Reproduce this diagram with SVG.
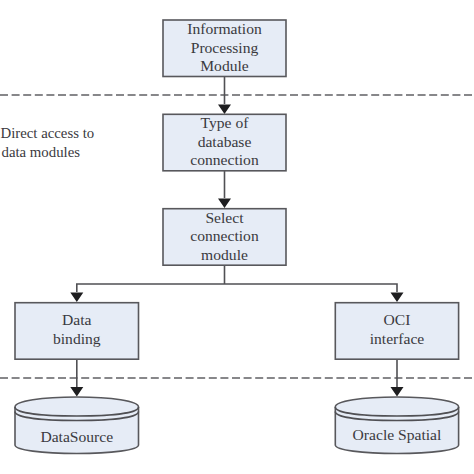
<svg xmlns="http://www.w3.org/2000/svg" width="474" height="474" viewBox="0 0 474 474">
<defs>
<style>
text{font-family:"Liberation Serif","Times New Roman",serif;font-size:15.6px;fill:#3a3a40;text-anchor:middle}
.box{fill:#e6ecf6;stroke:#58585c;stroke-width:1.6}
.line{fill:none;stroke:#505054;stroke-width:1.6}
.dash{fill:none;stroke:#606064;stroke-width:1.4;stroke-dasharray:8 3.6}
.head{fill:#1e1e20;stroke:none}
.label{font-size:14.8px;text-anchor:start}
</style>
</defs>
<rect width="474" height="474" fill="#fff"/>
<g id="connectors">
<path class="dash" d="M0 95H474M0 378H474"/>
<path class="line" d="M224.500 76V104M224.500 170.500V198M224.500 265V284H76.800V292M224.500 284H397V292M76.800 359V387M397 359V387"/>
<path class="head" d="M218 104.500H231L224.500 114ZM218 198.500H231L224.500 208ZM70.300 292.500H83.300L76.800 302ZM390.500 292.500H403.500L397 302ZM70.300 387H83.300L76.800 396.500ZM390.500 387H403.500L397 396.500Z"/>
</g>
<g id="information-processing-module">
<rect class="box" x="163" y="20" width="123" height="56.500"/>
<text x="224.500" y="33.500">Information</text>
<text x="224.500" y="52.500">Processing</text>
<text x="224.500" y="71">Module</text>
</g>
<g id="type-of-database-connection">
<rect class="box" x="163" y="114.300" width="123" height="56.500"/>
<text x="224.500" y="128">Type of</text>
<text x="224.500" y="146.500">database</text>
<text x="224.500" y="165">connection</text>
</g>
<g id="select-connection-module">
<rect class="box" x="163" y="208.700" width="123" height="56.500"/>
<text x="224.500" y="222.500">Select</text>
<text x="224.500" y="241">connection</text>
<text x="224.500" y="259.500">module</text>
</g>
<g id="data-binding">
<rect class="box" x="15" y="302.700" width="123.500" height="56.500"/>
<text x="76.800" y="325">Data</text>
<text x="76.800" y="344">binding</text>
</g>
<g id="oci-interface">
<rect class="box" x="335.300" y="302.700" width="123.300" height="56.500"/>
<text x="397" y="325">OCI</text>
<text x="397" y="344">interface</text>
</g>
<g id="datasource">
<path class="box" d="M15 407C15 401 42 397 76.800 397C111.500 397 138.500 401 138.500 407V445C138.500 450 111.500 453.500 76.800 453.500C42 453.500 15 450 15 445Z"/>
<path class="line" d="M15 407C15 413 42 416 76.800 416C111.500 416 138.500 413 138.500 407"/>
<path class="line" d="M15 411.500C15 417.500 42 420.500 76.800 420.500C111.500 420.500 138.500 417.500 138.500 411.500"/>
<text x="76.800" y="441.500">DataSource</text>
</g>
<g id="oracle-spatial">
<path class="box" d="M335.300 407C335.300 401 362 397 397 397C432 397 458.600 401 458.600 407V445C458.600 450 432 453.500 397 453.500C362 453.500 335.300 450 335.300 445Z"/>
<path class="line" d="M335.300 407C335.300 413 362 416 397 416C432 416 458.600 413 458.600 407"/>
<path class="line" d="M335.300 411.500C335.300 417.500 362 420.500 397 420.500C432 420.500 458.600 417.500 458.600 411.500"/>
<text x="397" y="439.500">Oracle Spatial</text>
</g>
<g id="direct-access-label">
<text class="label" x="0.500" y="138">Direct access to</text>
<text class="label" x="1.500" y="156.500">data modules</text>
</g>
</svg>
